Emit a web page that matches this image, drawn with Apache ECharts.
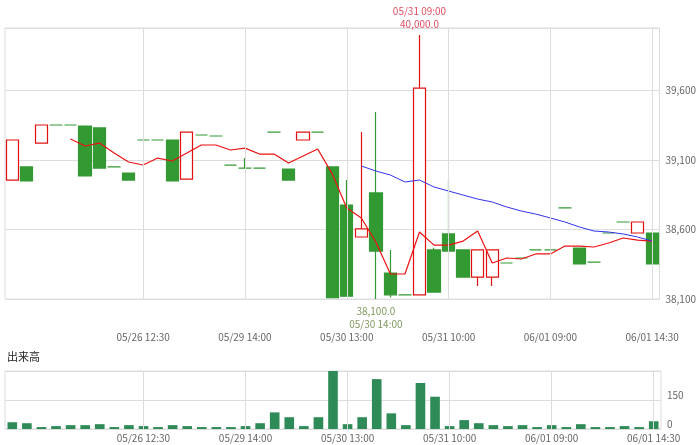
<!DOCTYPE html>
<html><head><meta charset="utf-8">
<script src="https://cdn.jsdelivr.net/npm/echarts@6/dist/echarts.min.js"></script>
<style>html,body{margin:0;padding:0;background:#fff}#c{width:699px;height:445px}</style>
</head><body><div id="c"></div>
<script>
const categories = [
 '05/25 09:00','05/25 09:30','05/25 10:00','05/25 10:30','05/25 11:00','05/25 13:00','05/25 13:30','05/25 14:00','05/25 14:30',
 '05/26 12:30','05/26 13:30','05/26 14:30','05/29 09:00','05/29 10:00','05/29 11:00','05/29 13:00',
 '05/29 14:00','05/29 14:30','05/29 15:00','05/30 09:00','05/30 09:30','05/30 10:00','05/30 11:00',
 '05/30 13:00','05/30 13:30','05/30 14:00','05/30 14:30','05/30 15:00','05/31 09:00','05/31 09:30',
 '05/31 10:00','05/31 10:30','05/31 11:00','05/31 12:30','05/31 13:00','05/31 13:30','05/31 14:00',
 '06/01 09:00','06/01 09:30','06/01 10:00','06/01 10:30','06/01 13:00','06/01 13:30','06/01 14:00','06/01 14:30'];
const openV  = [38956,39050,39222,39352,39352,39345,39331,39050,39006,39244,39244,39244,38963,39280,39273,39064,39042,39042,39301,39035,39244,39301,39050,38776,38546,38863,38287,38130,38130,38453,38568,38453,38258,38258,38359,38395,38453,38453,38755,38467,38366,38575,38654,38575,38575];
const closeV = [39244,38949,39352,39352,39352,38985,39042,39050,38956,39244,39244,38949,39301,39280,39273,39064,39042,39042,39301,38956,39301,39301,38110,38120,38604,38445,38130,38130,39618,38150,38445,38258,38453,38453,38359,38395,38453,38453,38755,38352,38366,38575,38654,38654,38352];
const lowV   = [38956,38949,39222,39352,39352,38985,39042,39050,38956,39244,39244,38949,38963,39280,39273,39064,39042,39042,39301,38956,39244,39301,38110,38120,38546,38100,38110,38130,38130,38150,38445,38258,38194,38194,38359,38395,38453,38453,38755,38352,38366,38575,38654,38575,38352];
const highV  = [39244,39050,39352,39352,39352,39345,39331,39050,39006,39244,39244,39244,39301,39280,39273,39064,39114,39042,39301,39035,39301,39301,39050,38956,39301,39445,38453,38130,40000,38468,38956,38453,38453,38453,38359,38395,38453,38453,38755,38467,38366,38575,38654,38654,38575];
const maShort = ['-','-','-','-',39251,39201,39222,39150,39086,39064,39114,39093,39150,39208,39208,39172,39186,39143,39143,39078,39129,39179,39000,38755,38683,38510,38280,38280,38582,38488,38488,38517,38589,38359,38395,38388,38424,38424,38481,38481,38474,38503,38539,38524,38517];
const maLong = ['-','-','-','-','-','-','-','-','-','-','-','-','-','-','-','-','-','-','-','-','-','-','-','-',39057,39021,38992,38942,38956,38906,38877,38848,38819,38798,38762,38733,38711,38683,38654,38618,38589,38582,38568,38546,38517];
const volume = [35,30,10,15,20,20,25,10,20,15,10,20,15,10,10,10,15,30,86,61,15,61,300,25,61,258,81,20,238,167,15,46,30,20,15,20,10,20,10,25,10,10,15,10,40];
const priceTicks = [38100,38600,39100,39600];
const labelIdx = [9,16,23,30,37,44];

const UP='#e01010', DOWN='#339933';
const candles = categories.map((c,i)=>[openV[i],closeV[i],lowV[i],highV[i]]);
const vlines = labelIdx.map(i=>({xAxis:i}));
const fmt = v => v.toLocaleString('en-US');
const chart = echarts.init(document.getElementById('c'));
const axLab = {color:'#666',fontSize:10,fontFamily:'"Noto Sans CJK JP",sans-serif'};
chart.setOption({
 animation:false,
 textStyle:{fontFamily:'"Noto Sans CJK JP",sans-serif'},
 title:{text:'出来高',left:2,top:346,textStyle:{fontSize:11,fontWeight:'normal',color:'#222'}},
 grid:[{left:5,right:38,top:28,height:271,show:true,borderColor:'#ddd',borderWidth:1},
       {left:5,right:38,top:371,height:58,show:true,borderColor:'#ddd',borderWidth:1}],
 xAxis:[
  {type:'category',gridIndex:0,data:categories,axisLine:{show:false},axisTick:{show:false},splitLine:{show:false},
   axisLabel:Object.assign({},axLab,{margin:33,interval:(i)=>labelIdx.includes(i),formatter:v=>v})},
  {type:'category',gridIndex:1,data:categories,axisLine:{show:false},axisTick:{show:false},splitLine:{show:false},
   axisLabel:Object.assign({},axLab,{margin:4,interval:(i)=>labelIdx.includes(i)})}],
 yAxis:[
  {type:'value',gridIndex:0,position:'right',min:38100,max:40050,interval:500,
   axisLine:{show:false},axisTick:{show:false},splitLine:{lineStyle:{color:'#ddd'}},
   axisLabel:Object.assign({},axLab,{showMaxLabel:false,margin:6,formatter:v=>priceTicks.includes(v)?fmt(v):''})},
  {type:'value',gridIndex:1,position:'right',min:0,max:300,interval:150,
   axisLine:{show:false},axisTick:{show:false},splitLine:{lineStyle:{color:'#ddd'}},
   axisLabel:Object.assign({},axLab,{showMaxLabel:false,margin:6,verticalAlign:'bottom'})}],
 series:[
  {type:'candlestick',xAxisIndex:0,yAxisIndex:0,data:candles,barWidth:'88%',
   itemStyle:{color:'#fff',color0:DOWN,borderColor:UP,borderColor0:DOWN,borderColorDoji:DOWN,borderWidth:1.2},
   markLine:{silent:true,symbol:'none',label:{show:false},lineStyle:{color:'#ddd',type:'solid',width:1},data:vlines},
   markPoint:{symbolSize:0,data:[
     {coord:[28,40000],label:{show:true,position:'top',distance:4,formatter:'05/31 09:00\n40,000.0',color:'#e05060',fontSize:10,lineHeight:13}},
     {coord:[25,38100],label:{show:true,position:'bottom',distance:6,formatter:'38,100.0\n05/30 14:00',color:'#7f9a5f',fontSize:10,lineHeight:13}}]}},
  {type:'line',xAxisIndex:0,yAxisIndex:0,data:maShort,symbol:'none',lineStyle:{color:'#ee1111',width:1.2}},
  {type:'line',xAxisIndex:0,yAxisIndex:0,data:maLong,symbol:'none',lineStyle:{color:'#3333ee',width:1}},
  {type:'bar',xAxisIndex:1,yAxisIndex:1,data:volume,barWidth:'66%',itemStyle:{color:'#2e8b57'},
   markLine:{silent:true,symbol:'none',label:{show:false},lineStyle:{color:'#ddd',type:'solid',width:1},data:vlines}}
 ]
});
</script></body></html>
